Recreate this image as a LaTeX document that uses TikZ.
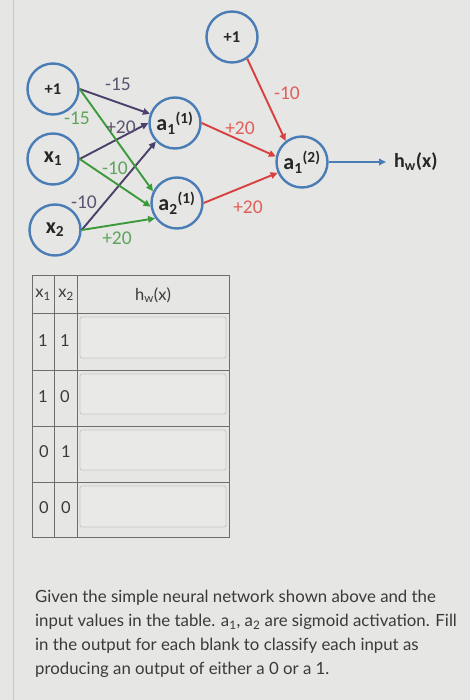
\documentclass[tikz,border=0pt]{standalone}
\usepackage{fontspec}
\setmainfont{Lato}
\newfontfamily\calib{Carlito}
\usetikzlibrary{arrows.meta}
\definecolor{bg}{HTML}{E6E6E4}
\definecolor{nodeblue}{HTML}{4A7DB5}
\definecolor{epurple}{HTML}{4B3F6B}
\definecolor{egreen}{HTML}{3C9A3C}
\definecolor{ered}{HTML}{D84040}
\definecolor{lpurple}{HTML}{5C5470}
\definecolor{lgreen}{HTML}{5DA55D}
\definecolor{lred}{HTML}{E0605A}
\definecolor{txt}{HTML}{3A3A3A}
\definecolor{tline}{HTML}{6E6E6E}
\definecolor{boxfill}{HTML}{E9E9E7}
\definecolor{boxline}{HTML}{C8C8C6}
\begin{document}
\begin{tikzpicture}[x=1pt,y=-1pt,
  neuron/.style={circle,draw=nodeblue,line width=2.4pt,minimum size=51pt,inner sep=0pt,font=\calib\bfseries\fontsize{22}{22}\selectfont,text=black!85},
  biasn/.style={neuron,font=\calib\bfseries\fontsize{16.5}{16.5}\selectfont},
  edge/.style={line width=1.9pt,-{Triangle[length=7pt,width=6.5pt]}},
  wlab/.style={font=\calib\fontsize{19.5}{19.5}\selectfont,inner sep=0pt},
  cell/.style={font=\fontsize{16.5}{16.5}\selectfont,text=txt,inner sep=0pt},
  inbox/.style={draw=boxline,fill=boxfill,rounded corners=2pt,line width=0.9pt}
]
\useasboundingbox (0,0) rectangle (470,700);
\fill[bg] (0,0) rectangle (470,700);
\draw[black!22,line width=0.8pt] (13,0) -- (13,700);

% nodes
\node[biasn] (b1) at (53,89) {+1};
\node[neuron] (x1) at (53,159) {x\textsubscript{1}};
\node[neuron] (x2) at (55,230) {x\textsubscript{2}};
\node[neuron] (a1) at (175,123) {a\textsubscript{1}\textsuperscript{(1)}};
\node[neuron] (a2) at (177,203) {a\textsubscript{2}\textsuperscript{(1)}};
\node[biasn] (b2) at (232,37) {+1};
\node[neuron] (o) at (302,162) {a\textsubscript{1}\textsuperscript{(2)}};
\node[font=\calib\bfseries\fontsize{20}{20}\selectfont,text=black!85,anchor=west,inner sep=0pt] (h) at (394,162) {h\textsubscript{w}(x)};
\coordinate (hin) at (386,162);

% edges
\draw[edge,epurple] (b1.east) -- (a1.160);
\draw[edge,epurple] (x1.east) -- (a1.west);
\draw[edge,epurple] (x2.east) -- (a1.224);
\draw[edge,egreen] (b1.east) -- (a2.154);
\draw[edge,egreen] (x1.east) -- (a2.188);
\draw[edge,egreen] (x2.east) -- (a2.215);
\draw[edge,ered] (a1.east) -- (o.168);
\draw[edge,ered] (a2.east) -- (o.204);
\draw[edge,ered] (b2.-55) -- (o.128);
\draw[edge,nodeblue] (o.east) -- (hin);

% weight labels
\node[wlab,text=lpurple] (w1) at (118,84) {-15};
\node[wlab,text=lgreen] (w2) at (77,118) {-15};
\node[wlab,text=lpurple] (w3) at (121,127) {+20};
\node[wlab,text=lgreen] (w4) at (115,168) {-10};
\node[wlab,text=lpurple] (w5) at (84,202) {-10};
\node[wlab,text=lgreen] (w6) at (117,238) {+20};
\node[wlab,text=lred] (w7) at (287,93) {-10};
\node[wlab,text=lred] (w8) at (240,128) {+20};
\node[wlab,text=lred] (w9) at (248,207) {+20};

% table
\begin{scope}[tline,line width=0.8pt]
\draw (32,275) rectangle (229,537);
\draw (54,275) -- (54,537);
\draw (77,275) -- (77,537);
\draw (32,313) -- (229,313);
\draw (32,370) -- (229,370);
\draw (32,426) -- (229,426);
\draw (32,482) -- (229,482);
\end{scope}
\node[cell] (hx1) at (43,295) {x\textsubscript{1}};
\node[cell] (hx2) at (66,295) {x\textsubscript{2}};
\node[cell] (hh) at (153,295) {h\textsubscript{w}(x)};
\node[cell] (r1a) at (43,341) {1};
\node[cell] (r1b) at (65,341) {1};
\node[cell] (r2a) at (43,397) {1};
\node[cell] (r2b) at (65,397) {0};
\node[cell] (r3a) at (44,452) {0};
\node[cell] (r3b) at (66,452) {1};
\node[cell] (r4a) at (44,508) {0};
\node[cell] (r4b) at (66,508) {0};
\draw[inbox] (80,317) rectangle (226,358);
\draw[inbox] (80,374) rectangle (226,414);
\draw[inbox] (80,430) rectangle (226,470);
\draw[inbox] (80,486) rectangle (226,527);

% text
\node[anchor=north west,inner sep=0pt,text=txt,align=left,font=\fontsize{16.8}{24}\selectfont] (para) at (35,590)
{Given the simple neural network shown above and the\\
input values in the table. a\textsubscript{1}, a\textsubscript{2} are sigmoid activation. Fill\\
in the output for each blank to classify each input as\\
producing an output of either a 0 or a 1.};
\end{tikzpicture}
\end{document}
